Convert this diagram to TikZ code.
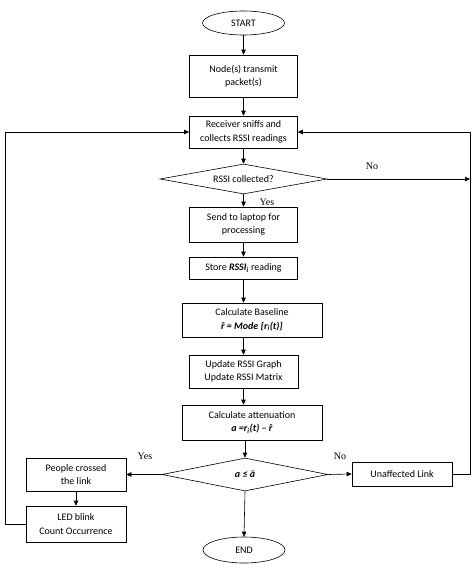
\documentclass[tikz,border=0pt]{standalone}
\usepackage{fontspec}
\setmainfont{Carlito}
\newfontfamily\timesf{Liberation Serif}
\usetikzlibrary{shapes.geometric,arrows.meta,calc}
\newcommand\myrhat{\accent"02C6 r}
\tikzset{
  every path/.style={line width=0.6pt},
  box/.style={draw, rectangle, align=center, inner sep=0pt, font=\fontsize{10}{13.5}\selectfont},
  term/.style={draw, ellipse, inner sep=0pt, font=\fontsize{10}{12}\selectfont},
  dec/.style={draw, diamond, inner sep=0pt, aspect=5, font=\fontsize{10}{12}\selectfont},
  lbl/.style={font=\timesf\fontsize{10}{12}\selectfont, inner sep=0pt},
  arr/.style={-{Triangle[length=5pt,width=4.5pt]}},
}
\begin{document}
\begin{tikzpicture}[x=1pt,y=-1pt]
\useasboundingbox (0,0) rectangle (474,573);
\node[term, minimum width=82pt, minimum height=24pt] (start) at (243.5,23) {START};
\node[box, minimum width=108pt, minimum height=42pt] (b1) at (243.5,76) {Node(s) transmit\\packet(s)};
\node[box, minimum width=108pt, minimum height=32pt] (b2) at (243.5,132) {Receiver sniffs and\\collects RSSI readings};
\node[dec, minimum width=167pt, minimum height=30pt] (d1) at (243.5,179) {RSSI collected?};
\node[box, minimum width=108pt, minimum height=35pt] (b3) at (243.5,224.5) {Send to laptop for\\processing};
\node[box, minimum width=108pt, minimum height=22pt] (b4) at (243.5,268) {Store \textbf{\textit{RSSI\textsubscript{i}}} reading};
\node[box, minimum width=140pt, minimum height=34pt] (b5) at (252,320) {Calculate Baseline\\\textbf{\textit{\myrhat{} = Mode \{r\textsubscript{i}(t)\}}}};
\node[box, minimum width=109pt, minimum height=33pt] (b6) at (243.5,371.5) {Update RSSI Graph\\Update RSSI Matrix};
\node[box, minimum width=140pt, minimum height=35pt] (b7) at (252,422.5) {Calculate attenuation\\\textbf{\textit{a =r\textsubscript{i}(t) – \myrhat}}};
\node[dec, minimum width=166pt, minimum height=33pt] (d2) at (245,474.5) {\textbf{\textit{a ≤ ā}}};
\node[box, minimum width=100pt, minimum height=33pt] (p) at (76,474.5) {People crossed\\the link};
\node[box, minimum width=100pt, minimum height=36pt] (led) at (76,524) {LED blink\\Count Occurrence};
\node[box, minimum width=100pt, minimum height=24pt] (u) at (402,474) {Unaffected Link};
\node[term, minimum width=82pt, minimum height=26pt] (end) at (244,550) {END};
\coordinate (lc) at (5,132);
\coordinate (rc) at (470,132);
\coordinate (rn) at (470,179);

\draw[arr] (start) -- (b1);
\draw[arr] (b1) -- (b2);
\draw[arr] (b2) -- (d1);
\draw[arr] (d1) -- (b3);
\draw[arr] (b3) -- (b4);
\draw[arr] (b4.south) -- (b4.south |- b5.north);
\draw[arr] (b6.north |- b5.south) -- (b6.north);
\draw[arr] (b6.south) -- (b6.south |- b7.north);
\draw[arr] (d2.north |- b7.south) -- (d2.north);
\draw[arr] (d2.west) -- (p.east);
\draw[arr] (d2.east) -- (u.west);
\draw[arr] (p) -- (led);
\draw[arr] (d2.south) -- (end.north);
\draw[arr] (d1.east) -- (rn);
\draw[arr] (led.west) -| (lc) -- (b2.west);
\draw[arr] (u.east) -| (rc) -- (b2.east);

\node[lbl] (yes1) at (267,202) {Yes};
\node[lbl] (no1) at (372,166) {No};
\node[lbl] (yes2) at (145,456) {Yes};
\node[lbl] (no2) at (340,456) {No};
\end{tikzpicture}
\end{document}
